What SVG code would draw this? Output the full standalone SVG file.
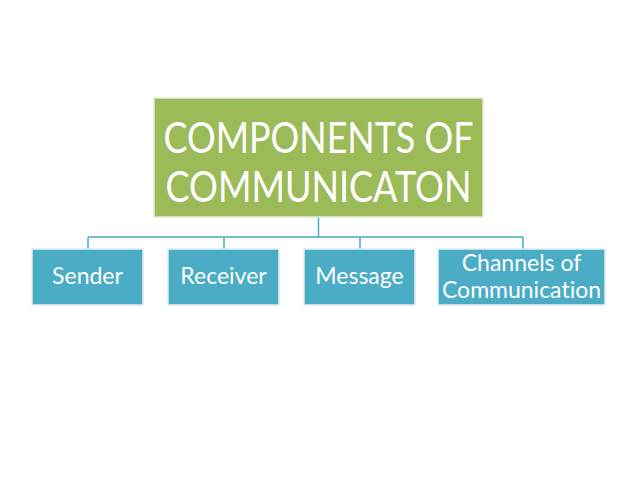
<svg xmlns="http://www.w3.org/2000/svg" width="638" height="479" viewBox="0 0 638 479">
<style>
.t{font-family:Lato,"Open Sans","Liberation Sans",sans-serif;fill:#fff;text-anchor:middle;font-variant-ligatures:none;font-feature-settings:"liga" 0,"dlig" 0}
.big{font-size:43px}
.sm{font-size:23px}
.g{fill:#9BBB59;stroke:#E4EBD9;stroke-width:1.5}
.b{fill:#4BACC6;stroke:#E2EEF2;stroke-width:1.5}
.c{fill:none;stroke:#4BACC6;stroke-width:1.5}
</style>
<rect width="638" height="479" fill="#fff"/>
<g id="connectors">
<path class="c" d="M318.5 217V237M88 237H523M88 237V249M224 237V249M360 237V249M523 237V249"/>
</g>
<g id="root">
<rect class="g" x="154" y="98" width="329" height="119"/>
<text class="t big" x="318.5" y="153" textLength="310" lengthAdjust="spacingAndGlyphs">COMPONENTS OF</text>
<text class="t big" x="318.5" y="202" textLength="306" lengthAdjust="spacingAndGlyphs">COMMUNICATON</text>
</g>
<g id="sender">
<rect class="b" x="32" y="249" width="111" height="56"/>
<text class="t sm" x="87.5" y="284">Sender</text>
</g>
<g id="receiver">
<rect class="b" x="168" y="249" width="111" height="56"/>
<text class="t sm" x="223.5" y="284">Receiver</text>
</g>
<g id="message">
<rect class="b" x="304" y="249" width="111" height="56"/>
<text class="t sm" x="359.5" y="284">Message</text>
</g>
<g id="channels">
<rect class="b" x="438" y="249" width="167" height="56"/>
<text class="t sm" x="521.5" y="271">Channels of</text>
<text class="t sm" x="521.5" y="298">Communication</text>
</g>
</svg>
